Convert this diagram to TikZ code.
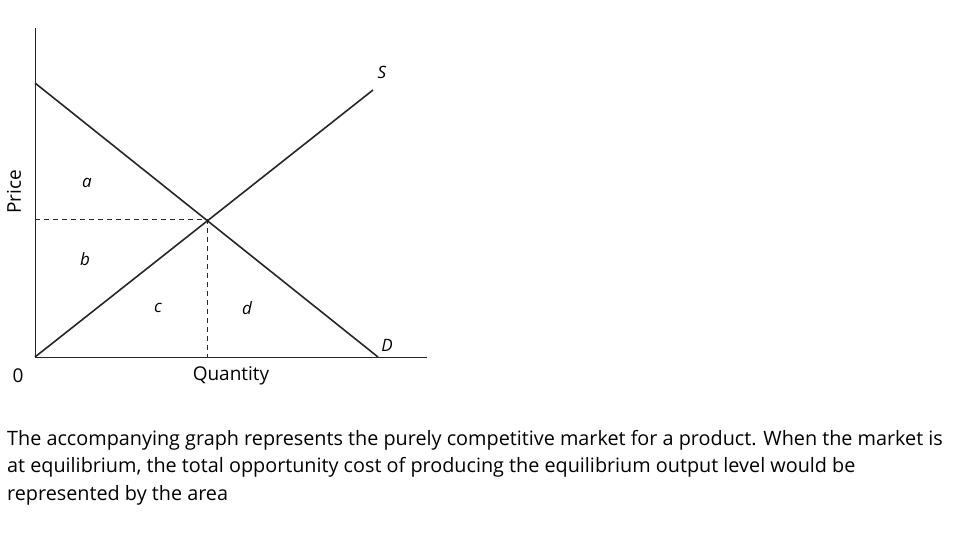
\documentclass[tikz,border=0pt]{standalone}
\usepackage{fontspec}
\setmainfont{Open Sans}
\begin{document}
\begin{tikzpicture}[x=1pt,y=-1pt,
  ln/.style={line width=1.6pt,black!85},
  ax/.style={line width=0.9pt,black!85},
  dsh/.style={line width=0.8pt,dash pattern=on 5pt off 4pt,black!85},
  lab/.style={font=\fontsize{17}{20}\selectfont\itshape,inner sep=0pt},
  txt/.style={font=\fontsize{19.8}{24}\selectfont,inner sep=0pt,anchor=west}]
\useasboundingbox (0,0) rectangle (966,554);
\coordinate (top) at (35,28);
\coordinate (o) at (35,357);
\coordinate (xe) at (427,357);
\coordinate (dt) at (35,83);
\coordinate (db) at (378,357);
\coordinate (st) at (373,90);
\coordinate (e) at (207,219);
\coordinate (ey) at (35,219);
\coordinate (ex) at (207,357);
\draw[ax] (top) -- (o) -- (xe);
\draw[ln] (dt) -- (db);
\draw[ln] (o) -- (st);
\draw[dsh] (ey) -- (e);
\draw[dsh] (e) -- (ex);
\node[lab] (S) at (382,72) {S};
\node[lab] (D) at (387,345) {D};
\node[lab] (a) at (87,183) {a};
\node[lab] (b) at (85,259) {b};
\node[lab] (c) at (158,308) {c};
\node[lab] (d) at (247,308) {d};
\node[font=\fontsize{19}{22}\selectfont,rotate=90,inner sep=0pt] (P) at (14,192) {Price};
\node[font=\fontsize{19}{22}\selectfont,inner sep=0pt] (O) at (18,376) {0};
\node[font=\fontsize{19}{22}\selectfont,inner sep=0pt] (Q) at (231,376) {Quantity};
\node[txt] (t1) at (7,440) {The accompanying graph represents the purely competitive market for a product. When the market is};
\node[txt] (t2) at (7,467) {at equilibrium, the total opportunity cost of producing the equilibrium output level would be};
\node[txt] (t3) at (7,495) {represented by the area};
\end{tikzpicture}
\end{document}
